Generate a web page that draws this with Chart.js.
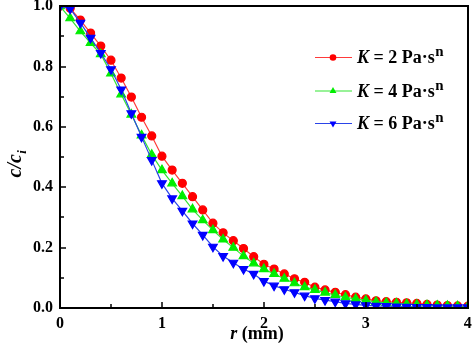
<!DOCTYPE html>
<html><head><meta charset="utf-8">
<script src="https://cdn.jsdelivr.net/npm/chart.js@4.4.1/dist/chart.umd.min.js"></script>
<style>html,body{margin:0;padding:0;background:#fff;}canvas{display:block;}</style>
</head><body>
<canvas id="c" width="474" height="353"></canvas>
<script>
const rValues = [0,0.1,0.2,0.3,0.4,0.5,0.6,0.7,0.8,0.9,1.0,1.1,1.2,1.3,1.4,1.5,1.6,1.7,1.8,1.9,2.0,2.1,2.2,2.3,2.4,2.5,2.6,2.7,2.8,2.9,3.0,3.1,3.2,3.3,3.4,3.5,3.6,3.7,3.8,3.9,4.0];
const seriesK2 = [1.0,0.993,0.954,0.911,0.868,0.821,0.762,0.699,0.632,0.570,0.503,0.457,0.413,0.369,0.325,0.281,0.249,0.223,0.197,0.170,0.145,0.129,0.113,0.097,0.085,0.069,0.060,0.052,0.044,0.036,0.030,0.024,0.021,0.019,0.017,0.015,0.012,0.010,0.008,0.007,0.006];
const seriesK4 = [1.0,0.960,0.917,0.878,0.841,0.777,0.708,0.641,0.572,0.508,0.457,0.413,0.371,0.327,0.291,0.258,0.227,0.200,0.172,0.148,0.129,0.113,0.097,0.082,0.069,0.060,0.051,0.043,0.035,0.030,0.025,0.020,0.017,0.015,0.013,0.011,0.009,0.008,0.007,0.006,0.005];
const seriesK6 = [1.0,0.992,0.945,0.895,0.845,0.791,0.724,0.645,0.567,0.490,0.413,0.363,0.322,0.280,0.242,0.203,0.172,0.150,0.129,0.113,0.089,0.074,0.062,0.052,0.041,0.032,0.026,0.021,0.015,0.012,0.009,0.007,0.006,0.005,0.004,0.003,0.003,0.002,0.002,0.002,0.002];
const seriesLabels = ["2","4","6"];

const SERIF = '"Liberation Serif", "Times New Roman", serif';
const styles = [
  {line:'#ff3a3a', fill:'#ff0000', style:'circle', rot:0, r:4},
  {line:'#33e633', fill:'#00ee00', style:'triangle', rot:0, r:5},
  {line:'#2a44e8', fill:'#0000ff', style:'triangle', rot:180, r:5}
];
const allSeries = [seriesK2, seriesK4, seriesK6];

const datasets = allSeries.map((s,i)=>({
  label: 'K' + seriesLabels[i],
  data: s.map((y,j)=>({x:rValues[j], y:y})),
  borderColor: styles[i].line,
  borderWidth: 1.2,
  pointBackgroundColor: styles[i].fill,
  pointBorderColor: styles[i].fill,
  pointStyle: styles[i].style,
  pointRotation: styles[i].rot,
  pointRadius: styles[i].r,
  tension: 0,
  order: 3 - i
}));

function marker(ctx, i, x, y, r) {
  ctx.fillStyle = styles[i].fill;
  ctx.beginPath();
  if (styles[i].style === 'circle') {
    ctx.arc(x, y, r, 0, Math.PI * 2);
  } else {
    const d = styles[i].rot ? -1 : 1;
    ctx.moveTo(x, y - d * r);
    ctx.lineTo(x + r * 0.866, y + d * r * 0.5);
    ctx.lineTo(x - r * 0.866, y + d * r * 0.5);
    ctx.closePath();
  }
  ctx.fill();
}

const decor = {
  id: 'decor',
  afterDraw(chart) {
    const ctx = chart.ctx;
    const xs = chart.scales.x, yS = chart.scales.y;
    const L = Math.round(xs.getPixelForValue(0));
    const R = Math.round(xs.getPixelForValue(4));
    const T = Math.round(yS.getPixelForValue(1));
    const B = Math.round(yS.getPixelForValue(0));
    ctx.save();
    ctx.fillStyle = '#000';
    ctx.fillRect(L - 1, T - 1, 2, B - T + 2);
    ctx.fillRect(R - 1, T - 1, 2, B - T + 2);
    ctx.fillRect(L - 1, T - 1, R - L + 2, 2);
    ctx.fillRect(L - 1, B - 1, R - L + 2, 2);
    for (let k = 0; k <= 8; k++) {
      const px = Math.round(xs.getPixelForValue(k * 0.5));
      const len = (k % 2 === 0) ? 6 : 4;
      ctx.fillRect(px - 0.75, B - len, 1.5, len);
    }
    for (let k = 0; k <= 10; k++) {
      const py = Math.round(yS.getPixelForValue(k * 0.1));
      const len = (k % 2 === 0) ? 6 : 4;
      ctx.fillRect(L, py - 0.75, len, 1.5);
    }
    // legend
    const rows = [57, 90.5, 123];
    rows.forEach((y, i) => {
      ctx.fillStyle = styles[i].line;
      ctx.fillRect(315, y, 37, 1);
      marker(ctx, i, 333, y + 0.5, i === 0 ? 3.3 : 4);
      ctx.fillStyle = '#000';
      ctx.textBaseline = 'alphabetic';
      ctx.textAlign = 'left';
      let x = 357; const base = y + 6;
      ctx.font = 'italic bold 18px ' + SERIF;
      ctx.fillText('K', x, base); x += ctx.measureText('K').width;
      ctx.font = 'bold 18px ' + SERIF;
      const t = ' = ' + seriesLabels[i] + ' Pa·s';
      ctx.fillText(t, x, base); x += ctx.measureText(t).width;
      ctx.font = 'bold 15px ' + SERIF;
      ctx.fillText('n', x + 0.5, base - 7);
    });
    // x title
    ctx.fillStyle = '#000';
    ctx.font = 'italic bold 18px ' + SERIF;
    const w1 = ctx.measureText('r').width;
    ctx.font = 'bold 18px ' + SERIF;
    const w2 = ctx.measureText(' (mm)').width;
    const xx = 257 - (w1 + w2) / 2;
    ctx.font = 'italic bold 18px ' + SERIF;
    ctx.fillText('r', xx, 339);
    ctx.font = 'bold 18px ' + SERIF;
    ctx.fillText(' (mm)', xx + w1, 339);
    // y title
    ctx.translate(21, 164);
    ctx.rotate(-Math.PI / 2);
    ctx.font = 'italic bold 20px ' + SERIF;
    const a = ctx.measureText('c/c').width;
    ctx.font = 'italic bold 13px ' + SERIF;
    const b = ctx.measureText('i').width;
    const sx = -(a + b) / 2;
    ctx.font = 'italic bold 20px ' + SERIF;
    ctx.fillText('c/c', sx, 0);
    ctx.font = 'italic bold 13px ' + SERIF;
    ctx.fillText('i', sx + a + 0.5, 5);
    ctx.restore();
  }
};

new Chart(document.getElementById('c'), {
  type: 'line',
  data: { datasets },
  options: {
    responsive: false,
    animation: false,
    layout: { padding: { top: 6, right: 5, left: 0, bottom: 0 } },
    plugins: { legend: { display: false }, tooltip: { enabled: false } },
    scales: {
      x: {
        type: 'linear', min: 0, max: 4,
        afterFit: (s) => { s.height = 45; s.paddingLeft = 0; s.paddingRight = 0; },
        grid: { display: false, drawTicks: false },
        border: { display: false },
        ticks: { stepSize: 1, padding: 6, color: '#000', font: { family: SERIF, weight: 'bold', size: 16 } }
      },
      y: {
        type: 'linear', min: 0, max: 1,
        afterFit: (s) => { s.width = 60; s.paddingTop = 0; s.paddingBottom = 0; },
        grid: { display: false, drawTicks: false },
        border: { display: false },
        ticks: { stepSize: 0.2, padding: 7, color: '#000', font: { family: SERIF, weight: 'bold', size: 16 }, callback: v => Number(v).toFixed(1) }
      }
    }
  },
  plugins: [decor]
});
</script>
</body></html>
